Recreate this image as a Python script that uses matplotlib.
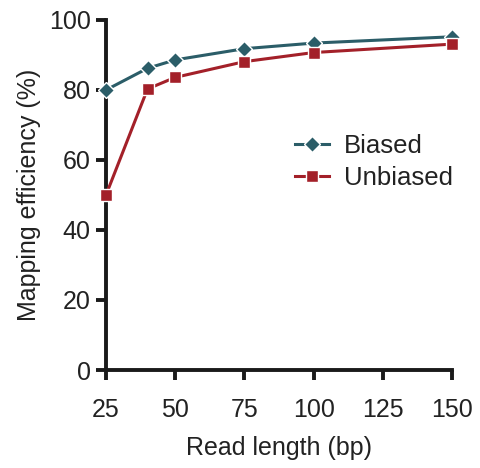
import matplotlib.pyplot as plt

# --- Data ---
read_length = [25, 40, 50, 75, 100, 150]
biased = [80.0, 86.2, 88.6, 91.8, 93.4, 95.2]
unbiased = [50.0, 80.3, 83.6, 88.1, 90.7, 93.1]

x_ticks = [25, 50, 75, 100, 125, 150]
y_ticks = [0, 20, 40, 60, 80, 100]

teal = "#2b5d68"
red = "#a32029"

plt.rcParams["font.family"] = ["Liberation Sans", "DejaVu Sans"]

fig = plt.figure(figsize=(4.81, 4.68), dpi=100)
ax = fig.add_axes([0.2204, 0.2094, 0.7193, 0.7479])

ax.plot(read_length, biased, color=teal, lw=2.2, marker="D", ms=8,
        mfc=teal, mec="white", mew=1.0, label="Biased", clip_on=False, zorder=3)
ax.plot(read_length, unbiased, color=red, lw=2.2, marker="s", ms=8,
        mfc=red, mec="white", mew=1.0, label="Unbiased", clip_on=False, zorder=3)

ax.set_xlim(25, 150)
ax.set_ylim(0, 100)
ax.set_xticks(x_ticks)
ax.set_yticks(y_ticks)

for s in ["top", "right"]:
    ax.spines[s].set_visible(False)
for s in ["left", "bottom"]:
    ax.spines[s].set_linewidth(2.8)
    ax.spines[s].set_color("#1a1a1a")
    ax.spines[s].set_capstyle("projecting")

ax.tick_params(axis="y", length=7, width=2.8, color="#1a1a1a", pad=4,
               labelsize=18, labelcolor="#222222")
ax.tick_params(axis="x", length=7, width=2.8, color="#1a1a1a", pad=13,
               labelsize=18, labelcolor="#222222")

ax.set_xlabel("Read length (bp)", fontsize=18, color="#222222", labelpad=10)
ax.set_ylabel("Mapping efficiency (%)", fontsize=18, color="#222222", labelpad=6)

leg = ax.legend(loc="upper left", bbox_to_anchor=(0.51, 0.71), frameon=False,
                fontsize=18.5, handlelength=1.3, handletextpad=0.6,
                labelspacing=0.3, borderpad=0)
for t in leg.get_texts():
    t.set_color("#222222")

fig.savefig("out.png", dpi=100)
